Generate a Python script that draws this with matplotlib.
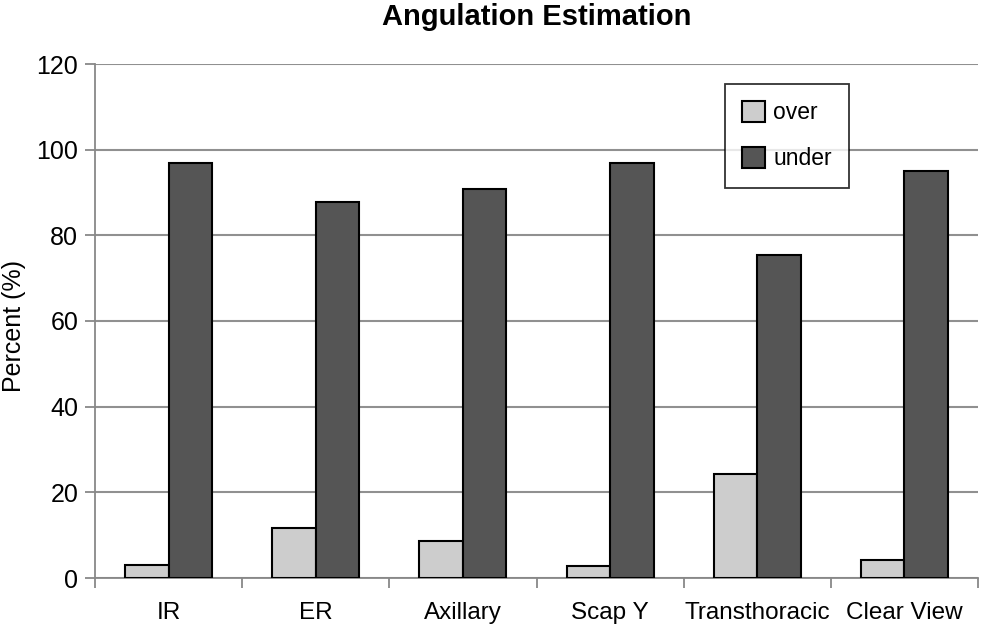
import matplotlib
matplotlib.use("Agg")
import matplotlib.pyplot as plt
import numpy as np

plt.rcParams['font.family'] = ['Liberation Sans', 'DejaVu Sans']

categories = ["IR", "ER", "Axillary", "Scap Y", "Transthoracic", "Clear View"]
over = [3, 11.6, 8.7, 2.8, 24.2, 4.2]
under = [97, 87.7, 90.9, 97, 75.3, 95]
yticks = [0, 20, 40, 60, 80, 100, 120]

fig = plt.figure(figsize=(9.81, 6.27), dpi=100)
ax = fig.add_axes([95/981, 1 - 578/627, (978-95)/981, (578-64)/627])

x = np.arange(len(categories))
w = 0.296
ax.bar(x - w/2, over, w, color='#cdcdcd', edgecolor='black', linewidth=1.5, label='over', zorder=3)
ax.bar(x + w/2, under, w, color='#555555', edgecolor='black', linewidth=1.5, label='under', zorder=3)

ax.set_xlim(-0.5, len(categories) - 0.5)
ax.set_ylim(0, 120)
ax.set_yticks(yticks)
ax.set_yticklabels([str(t) for t in yticks], fontsize=18)
ax.set_xticks(x)
ax.set_xticklabels(categories, fontsize=17.5)
ax.set_xticks(np.arange(len(categories) + 1) - 0.5, minor=True)
ax.tick_params(axis='x', which='major', length=0, pad=17)
ax.tick_params(axis='x', which='minor', length=7, color='#888888', width=1.3, direction='out')
ax.tick_params(axis='y', length=7, color='#888888', width=1.3, direction='out', pad=5)

ax.yaxis.grid(True, color='#909090', linewidth=1.5, zorder=0)
ax.set_axisbelow(True)
for s in ['top', 'right']:
    ax.spines[s].set_visible(False)
for s in ['left', 'bottom']:
    ax.spines[s].set_color('#888888')
    ax.spines[s].set_linewidth(1.3)

ax.set_ylabel("Percent (%)", fontsize=18)
ax.yaxis.set_label_coords((26 - 95) / 883, 0.49)
ax.set_title("Angulation Estimation", fontsize=21, fontweight='bold', pad=28)

leg = ax.legend(loc='upper left', bbox_to_anchor=((725-95)/883, 1 - (84-64)/514),
                fontsize=16.5, frameon=True, fancybox=False, edgecolor='black',
                borderpad=0.75, labelspacing=1.0, handlelength=1.0, handleheight=1.0,
                handletextpad=0.35, borderaxespad=0)
leg.get_frame().set_linewidth(1.3)

fig.savefig("out.png", dpi=100)
